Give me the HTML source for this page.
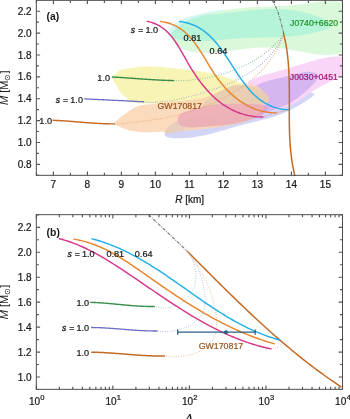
<!DOCTYPE html>
<html><head><meta charset="utf-8"><style>
html,body{margin:0;padding:0;background:#fff;width:350px;height:419px;overflow:hidden}
svg{display:block;will-change:transform}
text{font-family:"Liberation Sans",sans-serif}
</style></head><body>
<svg width="350" height="419" viewBox="0 0 350 419" font-family="Liberation Sans, sans-serif">
<defs><clipPath id="clipA"><rect x="36.3" y="0.3" width="306.2" height="175.0"/></clipPath></defs>
<rect width="350" height="419" fill="#fff"/>
<g clip-path="url(#clipA)">
<path d="M169.20,32.96 L168.98,32.18 L169.00,31.32 L169.24,30.40 L169.68,29.42 L170.30,28.42 L171.07,27.39 L171.98,26.35 L173.01,25.31 L174.14,24.30 L175.35,23.32 L176.62,22.38 L177.92,21.51 L179.24,20.71 L180.57,19.98 L181.91,19.33 L183.24,18.75 L184.57,18.22 L185.91,17.75 L187.24,17.32 L188.56,16.92 L189.87,16.56 L191.17,16.22 L192.46,15.90 L193.74,15.58 L195.00,15.27 L196.25,14.96 L197.49,14.65 L198.72,14.35 L199.95,14.05 L201.17,13.76 L202.40,13.47 L203.64,13.18 L204.88,12.90 L206.14,12.62 L207.41,12.36 L208.70,12.10 L210.01,11.84 L211.34,11.60 L212.71,11.36 L214.10,11.14 L215.53,10.92 L216.99,10.72 L218.47,10.53 L219.97,10.36 L221.48,10.22 L222.98,10.11 L224.47,10.03 L225.94,9.99 L227.39,9.99 L228.79,10.05 L230.15,10.15 L231.45,10.31 L232.70,10.53 L233.87,10.82 L234.95,11.18 L235.95,11.61 L236.85,12.12 L237.64,12.67 L238.31,13.25 L238.83,13.85 L239.21,14.43 L239.42,14.98 L239.47,15.49 L239.35,15.95 L239.08,16.38 L238.67,16.78 L238.12,17.15 L237.44,17.49 L236.64,17.80 L235.72,18.09 L234.70,18.36 L233.57,18.62 L232.35,18.86 L231.04,19.09 L229.65,19.32 L228.20,19.54 L226.67,19.76 L225.10,19.98 L223.47,20.21 L221.80,20.45 L220.10,20.69 L218.37,20.95 L216.62,21.22 L214.86,21.52 L213.09,21.84 L211.32,22.18 L209.57,22.55 L207.83,22.95 L206.12,23.39 L204.44,23.86 L202.80,24.38 L201.20,24.93 L199.66,25.54 L198.18,26.18 L196.75,26.87 L195.36,27.58 L194.02,28.30 L192.71,29.04 L191.44,29.78 L190.20,30.52 L188.98,31.24 L187.78,31.93 L186.59,32.60 L185.41,33.22 L184.24,33.80 L183.07,34.32 L181.90,34.77 L180.72,35.15 L179.53,35.45 L178.32,35.66 L177.08,35.77 L175.83,35.78 L174.58,35.68 L173.37,35.47 L172.23,35.16 L171.21,34.76 L170.34,34.25 L169.66,33.65 L169.20,32.96Z" fill="#d3f7f1" opacity="1.0"/>
<path d="M171.96,39.91 L172.22,37.25 L173.47,34.51 L175.44,31.82 L177.88,29.34 L180.61,27.13 L183.56,25.17 L186.69,23.41 L189.97,21.82 L193.32,20.35 L196.72,18.98 L200.14,17.67 L203.57,16.43 L206.99,15.27 L210.42,14.18 L213.84,13.18 L217.25,12.26 L220.64,11.42 L224.01,10.67 L227.35,10.01 L230.66,9.44 L233.95,8.94 L237.22,8.52 L240.47,8.17 L243.72,7.87 L246.97,7.62 L250.22,7.41 L253.47,7.23 L256.74,7.08 L260.03,6.95 L263.33,6.83 L266.67,6.72 L270.04,6.59 L273.45,6.46 L276.90,6.31 L280.39,6.12 L283.94,5.91 L287.55,5.65 L291.23,5.34 L294.97,4.97 L298.78,4.53 L302.67,4.02 L306.63,3.46 L310.61,2.88 L314.60,2.33 L318.56,1.83 L322.47,1.44 L326.28,1.18 L329.98,1.09 L333.52,1.22 L336.89,1.61 L340.05,2.28 L342.96,3.28 L345.61,4.65 L347.96,6.42 L349.97,8.64 L351.63,11.31 L352.94,14.38 L353.90,17.75 L354.52,21.35 L354.80,25.08 L354.74,28.87 L354.37,32.63 L353.67,36.27 L352.65,39.72 L351.33,42.88 L349.70,45.68 L347.78,48.06 L345.59,50.03 L343.13,51.62 L340.44,52.87 L337.53,53.80 L334.42,54.43 L331.13,54.80 L327.68,54.94 L324.09,54.86 L320.38,54.61 L316.56,54.20 L312.66,53.67 L308.70,53.05 L304.69,52.35 L300.66,51.62 L296.62,50.87 L292.60,50.14 L288.61,49.45 L284.67,48.83 L280.80,48.31 L277.02,47.92 L273.33,47.65 L269.72,47.50 L266.17,47.44 L262.69,47.49 L259.26,47.61 L255.88,47.81 L252.54,48.07 L249.22,48.39 L245.92,48.75 L242.64,49.14 L239.36,49.55 L236.07,49.98 L232.78,50.41 L229.46,50.84 L226.11,51.25 L222.72,51.63 L219.29,51.98 L215.80,52.27 L212.25,52.51 L208.66,52.67 L205.04,52.73 L201.41,52.65 L197.79,52.42 L194.20,52.02 L190.65,51.41 L187.17,50.57 L183.77,49.48 L180.48,48.12 L177.39,46.46 L174.77,44.54 L172.87,42.35 L171.96,39.91Z" fill="#daf8da" opacity="1.0"/>
<path d="M171.05,36.49 L170.85,34.99 L171.52,33.23 L172.91,31.30 L174.89,29.26 L177.30,27.19 L180.00,25.19 L182.85,23.31 L185.72,21.63 L188.59,20.16 L191.45,18.88 L194.30,17.79 L197.13,16.88 L199.94,16.14 L202.73,15.55 L205.50,15.09 L208.26,14.72 L211.02,14.42 L213.77,14.16 L216.53,13.91 L219.30,13.66 L222.07,13.38 L224.86,13.09 L227.65,12.78 L230.46,12.47 L233.27,12.15 L236.09,11.83 L238.92,11.52 L241.75,11.21 L244.59,10.90 L247.44,10.61 L250.29,10.34 L253.14,10.08 L256.01,9.85 L258.87,9.64 L261.74,9.46 L264.61,9.31 L267.49,9.20 L270.36,9.12 L273.24,9.09 L276.12,9.11 L279.01,9.17 L281.89,9.29 L284.77,9.46 L287.65,9.69 L290.53,9.99 L293.41,10.35 L296.29,10.78 L299.17,11.28 L302.04,11.86 L304.91,12.51 L307.78,13.26 L310.64,14.08 L313.50,15.00 L316.36,16.01 L319.20,17.11 L322.04,18.32 L324.79,19.61 L327.27,20.96 L329.29,22.33 L330.66,23.70 L331.19,25.03 L330.78,26.29 L329.52,27.49 L327.56,28.62 L325.07,29.67 L322.19,30.65 L319.06,31.55 L315.86,32.37 L312.67,33.10 L309.52,33.77 L306.41,34.36 L303.32,34.88 L300.27,35.34 L297.25,35.74 L294.26,36.09 L291.29,36.38 L288.35,36.63 L285.43,36.84 L282.54,37.01 L279.66,37.15 L276.81,37.27 L273.97,37.35 L271.15,37.42 L268.35,37.48 L265.56,37.52 L262.78,37.56 L260.01,37.60 L257.25,37.64 L254.50,37.68 L251.76,37.74 L249.02,37.82 L246.28,37.91 L243.54,38.03 L240.81,38.18 L238.07,38.37 L235.33,38.58 L232.58,38.81 L229.82,39.06 L227.05,39.33 L224.25,39.60 L221.44,39.86 L218.60,40.12 L215.72,40.36 L212.82,40.59 L209.87,40.79 L206.89,40.95 L203.87,41.08 L200.79,41.16 L197.67,41.19 L194.51,41.16 L191.36,41.06 L188.23,40.89 L185.16,40.64 L182.17,40.29 L179.30,39.84 L176.57,39.29 L174.12,38.59 L172.20,37.67 L171.05,36.49Z" fill="#b5f4d9" opacity="1.0"/>
<path d="M164.55,134.77 L164.93,133.05 L166.21,131.04 L168.14,128.92 L170.46,126.85 L172.94,125.02 L175.46,123.46 L178.02,122.16 L180.62,121.08 L183.24,120.19 L185.89,119.45 L188.56,118.84 L191.25,118.33 L193.96,117.88 L196.67,117.47 L199.40,117.05 L202.13,116.61 L204.86,116.13 L207.60,115.61 L210.33,115.07 L213.05,114.51 L215.77,113.92 L218.49,113.32 L221.19,112.70 L223.88,112.07 L226.56,111.44 L229.22,110.81 L231.86,110.17 L234.48,109.55 L237.08,108.93 L239.65,108.32 L242.20,107.73 L244.72,107.17 L247.21,106.62 L249.67,106.11 L252.09,105.62 L254.49,105.16 L256.88,104.72 L259.27,104.29 L261.68,103.86 L264.11,103.42 L266.59,102.98 L269.11,102.51 L271.71,102.01 L274.38,101.47 L277.14,100.89 L280.00,100.26 L282.99,99.57 L286.10,98.81 L289.35,97.97 L292.75,97.06 L296.22,96.11 L299.66,95.18 L302.96,94.34 L306.02,93.63 L308.74,93.12 L311.01,92.86 L312.74,92.92 L313.81,93.34 L314.15,94.13 L313.71,95.19 L312.50,96.45 L310.72,97.85 L308.53,99.35 L306.11,100.90 L303.64,102.44 L301.19,103.94 L298.76,105.41 L296.33,106.83 L293.90,108.19 L291.46,109.49 L289.00,110.71 L286.50,111.86 L283.99,112.93 L281.45,113.94 L278.89,114.89 L276.31,115.78 L273.72,116.63 L271.11,117.43 L268.50,118.19 L265.87,118.91 L263.24,119.62 L260.60,120.29 L257.96,120.96 L255.33,121.61 L252.69,122.25 L250.06,122.90 L247.44,123.55 L244.83,124.21 L242.22,124.88 L239.64,125.58 L237.06,126.30 L234.50,127.04 L231.94,127.78 L229.39,128.54 L226.85,129.30 L224.30,130.05 L221.74,130.80 L219.18,131.54 L216.61,132.26 L214.03,132.97 L211.43,133.64 L208.82,134.29 L206.18,134.91 L203.52,135.48 L200.83,136.02 L198.12,136.50 L195.37,136.94 L192.58,137.31 L189.76,137.63 L186.90,137.88 L183.99,138.06 L181.03,138.16 L178.03,138.19 L174.97,138.13 L171.95,137.95 L169.16,137.60 L166.85,137.00 L165.24,136.08 L164.55,134.77Z" fill="#d3d5f7" opacity="1.0"/>
<path d="M246.88,85.64 L247.68,84.05 L248.77,82.61 L250.11,81.30 L251.67,80.13 L253.43,79.07 L255.35,78.11 L257.39,77.24 L259.54,76.45 L261.76,75.73 L264.02,75.06 L266.29,74.44 L268.53,73.84 L270.72,73.27 L272.84,72.70 L274.89,72.14 L276.89,71.59 L278.83,71.03 L280.74,70.48 L282.62,69.93 L284.48,69.38 L286.33,68.83 L288.18,68.26 L290.04,67.70 L291.92,67.12 L293.83,66.53 L295.77,65.93 L297.77,65.32 L299.82,64.69 L301.94,64.04 L304.13,63.38 L306.40,62.70 L308.75,62.01 L311.14,61.32 L313.57,60.64 L316.03,59.97 L318.51,59.34 L320.98,58.75 L323.44,58.20 L325.87,57.71 L328.26,57.29 L330.60,56.94 L332.86,56.67 L335.05,56.50 L337.14,56.44 L339.12,56.48 L340.97,56.65 L342.69,56.95 L344.26,57.40 L345.67,57.99 L346.90,58.74 L347.94,59.66 L348.78,60.76 L349.39,62.04 L349.78,63.47 L349.90,65.00 L349.75,66.57 L349.31,68.12 L348.56,69.61 L347.53,71.04 L346.24,72.40 L344.74,73.71 L343.04,74.96 L341.20,76.16 L339.23,77.31 L337.17,78.43 L335.06,79.51 L332.91,80.55 L330.78,81.57 L328.68,82.57 L326.62,83.55 L324.61,84.52 L322.64,85.50 L320.72,86.49 L318.85,87.50 L317.04,88.54 L315.27,89.61 L313.55,90.71 L311.86,91.84 L310.20,92.98 L308.55,94.12 L306.92,95.28 L305.29,96.43 L303.66,97.57 L302.01,98.71 L300.35,99.82 L298.65,100.91 L296.92,101.97 L295.14,102.99 L293.31,103.97 L291.41,104.91 L289.45,105.79 L287.43,106.61 L285.34,107.36 L283.21,108.04 L281.05,108.63 L278.86,109.14 L276.66,109.55 L274.45,109.85 L272.25,110.04 L270.06,110.12 L267.90,110.07 L265.78,109.88 L263.71,109.55 L261.69,109.08 L259.74,108.45 L257.88,107.65 L256.10,106.68 L254.42,105.54 L252.85,104.21 L251.40,102.69 L250.09,101.00 L248.93,99.16 L247.95,97.23 L247.17,95.24 L246.60,93.22 L246.27,91.21 L246.19,89.25 L246.39,87.38 L246.88,85.64Z" fill="#f9d5f7" opacity="1.0"/>
<path d="M245.92,98.72 L246.42,97.20 L247.00,95.77 L247.67,94.41 L248.41,93.14 L249.23,91.95 L250.13,90.82 L251.09,89.76 L252.12,88.77 L253.21,87.85 L254.37,86.98 L255.58,86.16 L256.84,85.40 L258.15,84.69 L259.51,84.02 L260.91,83.39 L262.35,82.81 L263.83,82.25 L265.34,81.73 L266.88,81.24 L268.45,80.78 L270.04,80.33 L271.65,79.91 L273.28,79.50 L274.93,79.10 L276.58,78.71 L278.24,78.33 L279.91,77.95 L281.57,77.57 L283.23,77.18 L284.89,76.78 L286.54,76.38 L288.17,75.96 L289.79,75.52 L291.40,75.08 L292.99,74.64 L294.56,74.20 L296.13,73.78 L297.67,73.39 L299.20,73.02 L300.72,72.69 L302.22,72.40 L303.71,72.16 L305.18,71.99 L306.63,71.87 L308.07,71.83 L309.50,71.87 L310.90,72.00 L312.30,72.22 L313.67,72.54 L315.02,72.97 L316.27,73.52 L317.29,74.18 L317.99,74.97 L318.30,75.87 L318.27,76.88 L317.94,77.98 L317.35,79.14 L316.54,80.37 L315.56,81.62 L314.44,82.91 L313.23,84.19 L311.98,85.47 L310.72,86.72 L309.47,87.93 L308.23,89.12 L306.99,90.28 L305.75,91.40 L304.52,92.49 L303.28,93.55 L302.05,94.57 L300.83,95.57 L299.60,96.53 L298.37,97.46 L297.14,98.36 L295.91,99.23 L294.67,100.07 L293.43,100.87 L292.19,101.64 L290.94,102.38 L289.68,103.08 L288.42,103.76 L287.14,104.41 L285.86,105.03 L284.56,105.63 L283.24,106.21 L281.90,106.77 L280.55,107.32 L279.16,107.86 L277.75,108.40 L276.32,108.93 L274.85,109.46 L273.34,110.00 L271.80,110.54 L270.22,111.09 L268.60,111.65 L266.94,112.23 L265.23,112.82 L263.47,113.44 L261.68,114.06 L259.88,114.66 L258.08,115.20 L256.33,115.65 L254.63,115.99 L253.02,116.18 L251.52,116.20 L250.15,116.01 L248.94,115.58 L247.90,114.90 L247.02,113.99 L246.31,112.89 L245.75,111.61 L245.33,110.19 L245.06,108.66 L244.91,107.05 L244.89,105.37 L244.99,103.68 L245.20,101.98 L245.51,100.32 L245.92,98.72Z" fill="#d5b6f1" opacity="1.0"/>
<path d="M112.30,77.00 L112.34,76.96 L112.43,76.87 L112.55,76.75 L112.72,76.58 L112.93,76.37 L113.19,76.11 L113.48,75.82 L113.82,75.48 L114.20,75.12 L114.62,74.72 L115.08,74.30 L115.58,73.85 L116.12,73.37 L116.70,72.87 L117.32,72.33 L117.98,71.77 L118.70,71.25 L119.48,70.77 L120.32,70.34 L121.21,69.96 L122.16,69.61 L123.17,69.31 L124.24,69.06 L125.36,68.84 L126.62,68.62 L128.00,68.40 L129.51,68.16 L131.14,67.92 L132.91,67.66 L134.80,67.40 L136.82,67.14 L138.98,66.86 L141.22,66.65 L143.57,66.51 L146.02,66.43 L148.56,66.42 L151.20,66.47 L153.94,66.59 L156.78,66.78 L159.72,67.03 L162.76,67.29 L165.90,67.58 L169.14,67.88 L172.48,68.20 L175.93,68.53 L179.48,68.89 L183.12,69.26 L186.88,69.64 L190.54,70.07 L194.11,70.53 L197.59,71.02 L200.98,71.55 L204.29,72.12 L207.50,72.72 L210.63,73.36 L213.67,74.04 L216.55,74.72 L219.28,75.40 L221.84,76.09 L224.26,76.78 L226.51,77.48 L228.61,78.19 L230.56,78.89 L232.34,79.61 L234.16,80.32 L236.02,81.04 L237.90,81.76 L239.82,82.49 L241.77,83.22 L243.76,83.95 L245.77,84.68 L247.83,85.42 L249.73,86.14 L251.48,86.85 L253.09,87.55 L254.56,88.23 L255.87,88.90 L257.04,89.55 L258.06,90.19 L258.94,90.81 L259.36,91.47 L259.33,92.16 L258.84,92.88 L257.91,93.62 L256.52,94.41 L254.67,95.22 L252.38,96.06 L249.62,96.94 L246.59,97.75 L243.28,98.50 L239.69,99.19 L235.81,99.81 L231.66,100.38 L227.22,100.88 L222.50,101.31 L217.50,101.69 L212.44,102.03 L207.31,102.34 L202.12,102.62 L196.88,102.86 L191.56,103.07 L186.19,103.25 L180.75,103.39 L175.25,103.51 L170.06,103.59 L165.19,103.65 L160.62,103.68 L156.38,103.68 L152.44,103.65 L148.81,103.59 L145.50,103.51 L142.50,103.39 L139.78,103.21 L137.33,102.96 L135.16,102.63 L133.27,102.24 L131.65,101.78 L130.31,101.24 L129.24,100.64 L128.46,99.96 L127.67,99.27 L126.88,98.57 L126.09,97.85 L125.31,97.12 L124.52,96.38 L123.73,95.62 L122.94,94.84 L122.16,94.06 L121.43,93.27 L120.75,92.49 L120.13,91.70 L119.57,90.92 L119.06,90.14 L118.61,89.36 L118.22,88.59 L117.88,87.81 L117.53,87.08 L117.17,86.38 L116.79,85.73 L116.41,85.12 L116.01,84.55 L115.59,84.02 L115.17,83.53 L114.73,83.07 L114.33,82.61 L113.98,82.13 L113.66,81.64 L113.39,81.13 L113.15,80.61 L112.96,80.08 L112.81,79.53 L112.69,78.97 L112.60,78.48 L112.51,78.05 L112.44,77.70 L112.38,77.42 L112.34,77.21 L112.31,77.07Z" fill="#f8f4b5" opacity="1.0"/>
<path d="M113.20,123.60 L113.31,123.50 L113.53,123.30 L113.87,123.01 L114.31,122.62 L114.86,122.12 L115.53,121.53 L116.31,120.84 L117.19,120.06 L118.08,119.28 L118.97,118.53 L119.87,117.79 L120.76,117.06 L121.65,116.35 L122.55,115.66 L123.45,114.98 L124.35,114.32 L125.25,113.67 L126.15,113.03 L127.04,112.40 L127.93,111.78 L128.83,111.17 L129.72,110.57 L130.61,109.99 L131.49,109.41 L132.38,108.87 L133.27,108.36 L134.17,107.88 L135.06,107.43 L135.95,107.01 L136.85,106.62 L137.75,106.26 L138.65,105.94 L139.66,105.64 L140.78,105.37 L142.01,105.12 L143.34,104.90 L144.79,104.71 L146.35,104.55 L148.01,104.41 L149.79,104.29 L151.64,104.15 L153.56,103.98 L155.56,103.77 L157.64,103.53 L159.79,103.26 L162.01,102.96 L164.31,102.63 L166.69,102.27 L169.19,101.92 L171.81,101.59 L174.56,101.27 L177.44,100.96 L180.44,100.67 L183.56,100.39 L186.81,100.12 L190.19,99.88 L193.42,99.53 L196.52,99.09 L199.47,98.56 L202.28,97.94 L204.95,97.22 L207.48,96.41 L209.88,95.50 L212.12,94.50 L214.41,93.53 L216.72,92.59 L219.06,91.69 L221.44,90.81 L223.84,89.97 L226.28,89.16 L228.75,88.38 L231.25,87.62 L233.67,86.95 L236.02,86.36 L238.28,85.84 L240.47,85.41 L242.58,85.05 L244.61,84.77 L246.56,84.56 L248.44,84.44 L250.27,84.49 L252.06,84.71 L253.81,85.10 L255.52,85.67 L257.18,86.41 L258.80,87.33 L260.38,88.42 L261.92,89.68 L263.21,91.04 L264.26,92.48 L265.06,94.02 L265.62,95.65 L265.93,97.38 L265.99,99.19 L265.81,101.10 L265.39,103.10 L264.77,105.05 L263.95,106.94 L262.93,108.78 L261.72,110.57 L260.31,112.30 L258.70,113.98 L256.90,115.61 L254.90,117.19 L252.40,118.68 L249.40,120.09 L245.91,121.42 L241.92,122.66 L237.42,123.82 L232.43,124.90 L226.94,125.89 L220.96,126.81 L215.15,127.63 L209.51,128.37 L204.05,129.02 L198.77,129.58 L193.67,130.06 L188.74,130.44 L183.99,130.74 L179.41,130.96 L175.02,131.15 L170.80,131.34 L166.76,131.51 L162.89,131.67 L159.21,131.81 L155.70,131.94 L152.38,132.05 L149.23,132.15 L146.25,132.18 L143.44,132.14 L140.80,132.04 L138.33,131.86 L136.03,131.62 L133.90,131.31 L131.94,130.92 L130.16,130.47 L128.42,130.00 L126.75,129.50 L125.13,128.97 L123.57,128.41 L122.06,127.83 L120.61,127.22 L119.22,126.58 L117.88,125.92 L116.71,125.34 L115.71,124.84 L114.87,124.43 L114.20,124.10 L113.70,123.85 L113.37,123.68Z" fill="#fad3b1" opacity="0.85"/>
<path d="M164.54,131.98 L164.86,131.32 L165.24,130.66 L165.67,130.01 L166.16,129.36 L166.69,128.72 L167.28,128.08 L167.93,127.44 L168.62,126.81 L169.38,126.19 L170.12,125.58 L170.88,124.98 L171.62,124.41 L172.38,123.84 L173.12,123.30 L173.88,122.77 L174.62,122.25 L175.38,121.75 L176.08,121.39 L176.73,121.17 L177.34,121.09 L177.91,121.16 L178.42,121.36 L178.89,121.70 L179.31,122.19 L179.69,122.81 L180.11,123.42 L180.58,124.02 L181.09,124.59 L181.66,125.16 L182.27,125.70 L182.92,126.23 L183.62,126.75 L184.38,127.25 L184.89,127.73 L185.17,128.20 L185.22,128.66 L185.03,129.09 L184.61,129.52 L183.95,129.92 L183.06,130.31 L181.94,130.69 L180.72,131.05 L179.43,131.40 L178.04,131.75 L176.56,132.08 L175.00,132.40 L173.35,132.71 L171.61,133.01 L169.79,133.29 L168.23,133.46 L166.94,133.51 L165.93,133.44 L165.18,133.26 L164.69,132.95 L164.48,132.53Z" fill="#e6cdbd" opacity="0.9"/>
<path d="M205.25,101.62 L206.75,100.38 L208.28,99.16 L209.84,97.97 L211.44,96.81 L213.06,95.69 L214.72,94.59 L216.41,93.53 L218.12,92.50 L219.88,91.50 L221.58,90.56 L223.23,89.68 L224.84,88.87 L226.41,88.11 L227.92,87.41 L229.39,86.78 L230.81,86.21 L232.19,85.69 L233.66,85.30 L235.23,85.02 L236.90,84.86 L238.67,84.82 L240.54,84.89 L242.50,85.08 L244.57,85.39 L246.73,85.81 L248.79,86.26 L250.75,86.72 L252.60,87.21 L254.35,87.72 L256.00,88.24 L257.54,88.79 L258.98,89.36 L260.32,89.94 L261.56,90.55 L262.71,91.16 L263.77,91.79 L264.73,92.43 L265.60,93.09 L266.38,93.76 L267.06,94.45 L267.64,95.15 L268.13,95.86 L268.52,96.57 L268.81,97.29 L268.99,98.01 L269.08,98.74 L269.07,99.48 L268.96,100.22 L268.74,100.97 L268.34,101.65 L267.76,102.24 L266.98,102.76 L266.02,103.19 L264.87,103.55 L263.53,103.83 L262.01,104.04 L260.29,104.16 L258.42,104.26 L256.37,104.34 L254.16,104.39 L251.79,104.41 L249.25,104.41 L246.54,104.39 L243.67,104.34 L240.63,104.26 L237.66,104.23 L234.76,104.23 L231.92,104.28 L229.15,104.37 L226.45,104.50 L223.82,104.67 L221.25,104.88 L218.75,105.12 L216.41,105.34 L214.22,105.53 L212.19,105.69 L210.31,105.81 L208.59,105.91 L207.03,105.97 L205.62,106.00 L204.38,106.00 L203.47,105.84 L202.91,105.53 L202.69,105.06 L202.81,104.44 L203.28,103.66 L204.09,102.72Z" fill="#e8cdb2" opacity="0.95"/>
<path d="M178.26,117.04 L178.64,116.36 L179.09,115.72 L179.61,115.12 L180.18,114.55 L180.82,114.02 L181.52,113.53 L182.28,113.07 L183.11,112.64 L183.99,112.26 L185.04,111.84 L186.24,111.38 L187.60,110.90 L189.12,110.38 L190.80,109.83 L192.63,109.24 L194.62,108.62 L196.78,107.98 L199.06,107.37 L201.47,106.82 L204.02,106.32 L206.70,105.86 L209.52,105.45 L212.46,105.09 L215.54,104.78 L218.76,104.52 L221.94,104.30 L225.10,104.11 L228.23,103.97 L231.34,103.86 L234.42,103.79 L237.47,103.76 L240.50,103.78 L243.50,103.83 L246.31,103.88 L248.94,103.95 L251.38,104.03 L253.62,104.12 L255.69,104.22 L257.56,104.32 L259.25,104.44 L260.75,104.56 L262.09,104.73 L263.28,104.95 L264.31,105.22 L265.19,105.53 L265.91,105.89 L266.47,106.30 L266.88,106.75 L267.12,107.25 L267.25,107.80 L267.25,108.39 L267.12,109.03 L266.88,109.72 L266.50,110.45 L266.00,111.23 L265.38,112.06 L264.62,112.94 L263.78,113.77 L262.84,114.55 L261.81,115.28 L260.69,115.97 L259.47,116.61 L258.16,117.20 L256.75,117.75 L255.25,118.25 L253.62,118.77 L251.88,119.30 L250.00,119.84 L248.00,120.41 L245.88,120.98 L243.62,121.58 L241.25,122.19 L238.75,122.81 L236.25,123.38 L233.75,123.88 L231.25,124.31 L228.75,124.69 L226.25,125.00 L223.75,125.25 L221.25,125.44 L218.75,125.56 L216.25,125.70 L213.75,125.86 L211.25,126.03 L208.75,126.22 L206.25,126.42 L203.75,126.64 L201.25,126.88 L198.75,127.12 L196.41,127.31 L194.22,127.44 L192.19,127.50 L190.31,127.50 L188.59,127.44 L187.03,127.31 L185.62,127.12 L184.38,126.88 L183.23,126.55 L182.20,126.16 L181.27,125.69 L180.45,125.16 L179.74,124.55 L179.14,123.87 L178.64,123.11 L178.26,122.29 L177.97,121.48 L177.77,120.69 L177.68,119.93 L177.68,119.18 L177.77,118.44 L177.97,117.73Z" fill="#e79ab4" opacity="0.62"/>
</g>
<path d="M173.85,80.62 L175.37,80.63 L176.89,80.63 L178.41,80.61 L179.93,80.58 L181.46,80.54 L182.99,80.48 L184.51,80.41 L186.04,80.33 L187.57,80.23 L189.11,80.12 L190.64,80.00 L192.17,79.86 L193.70,79.70 L195.23,79.54 L196.76,79.36 L198.29,79.16 L199.82,78.95 L201.35,78.73 L202.87,78.49 L204.40,78.24 L205.92,77.97 L207.44,77.69 L208.96,77.40 L210.47,77.09 L211.98,76.76 L213.49,76.42 L215.00,76.07 L216.50,75.70 L218.00,75.32 L219.49,74.92 L220.98,74.51 L222.46,74.08 L223.94,73.64 L225.42,73.18 L226.89,72.70 L228.35,72.22 L229.81,71.71 L231.26,71.19 L232.71,70.66 L234.15,70.11 L235.58,69.54 L237.00,68.96 L238.42,68.37 L239.83,67.76 L241.24,67.13 L242.63,66.49 L244.02,65.83 L245.40,65.15 L246.77,64.46 L248.13,63.75 L249.49,63.03 L250.83,62.29 L252.16,61.54 L253.49,60.77 L254.80,59.98 L256.11,59.17 L257.40,58.36 L258.68,57.52 L259.96,56.67 L261.22,55.80 L262.47,54.91 L263.70,54.01 L264.93,53.09 L266.14,52.15 L267.34,51.20 L268.53,50.23 L269.71,49.25 L270.87,48.24 L272.02,47.22 L273.16,46.19 L274.28,45.13 L275.39,44.06 L276.48,42.97 L277.56,41.86 L278.63,40.74 L279.68,39.60 L280.71,38.44 L281.73,37.27 L282.74,36.07" stroke="#8cbc9c" stroke-width="1.1" fill="none" stroke-linejoin="round" stroke-dasharray="0.01 2.4" stroke-linecap="round"/>
<path d="M143.42,102.01 L145.50,102.12 L147.57,102.20 L149.64,102.23 L151.69,102.23 L153.75,102.19 L155.79,102.11 L157.83,102.00 L159.87,101.85 L161.90,101.67 L163.92,101.46 L165.94,101.23 L167.96,100.96 L169.97,100.66 L171.98,100.34 L173.98,99.99 L175.98,99.62 L177.98,99.23 L179.97,98.82 L181.96,98.39 L183.94,97.93 L185.92,97.47 L187.90,96.98 L189.88,96.48 L191.85,95.97 L193.82,95.44 L195.79,94.90 L197.76,94.36 L199.72,93.80 L201.68,93.23 L203.64,92.65 L205.60,92.06 L207.55,91.45 L209.50,90.83 L211.44,90.20 L213.38,89.54 L215.31,88.88 L217.24,88.19 L219.16,87.49 L221.07,86.77 L222.98,86.03 L224.88,85.27 L226.77,84.49 L228.66,83.68 L230.53,82.86 L232.40,82.01 L234.26,81.13 L236.11,80.24 L237.95,79.31 L239.78,78.36 L241.59,77.39 L243.39,76.39 L245.18,75.36 L246.94,74.31 L248.69,73.23 L250.42,72.12 L252.13,70.98 L253.82,69.81 L255.48,68.61 L257.12,67.39 L258.73,66.13 L260.32,64.85 L261.87,63.53 L263.40,62.18 L264.90,60.80 L266.36,59.39 L267.79,57.94 L269.19,56.47 L270.55,54.96 L271.87,53.41 L273.15,51.83 L274.39,50.22 L275.60,48.57 L276.76,46.89 L277.87,45.17 L278.94,43.42 L279.97,41.63 L280.94,39.80 L281.87,37.94 L282.75,36.03" stroke="#a4a4dc" stroke-width="1.1" fill="none" stroke-linejoin="round" stroke-dasharray="0.01 2.4" stroke-linecap="round"/>
<path d="M115.10,124.25 L117.63,124.02 L120.15,123.78 L122.68,123.54 L125.21,123.29 L127.73,123.03 L130.26,122.77 L132.78,122.50 L135.31,122.21 L137.83,121.92 L140.35,121.61 L142.87,121.29 L145.38,120.96 L147.89,120.61 L150.40,120.25 L152.91,119.87 L155.41,119.48 L157.91,119.07 L160.41,118.64 L162.90,118.19 L165.38,117.72 L167.86,117.23 L170.34,116.72 L172.81,116.19 L175.27,115.63 L177.73,115.05 L180.18,114.45 L182.62,113.82 L185.06,113.16 L187.49,112.48 L189.91,111.76 L192.32,111.02 L194.73,110.25 L197.12,109.45 L199.51,108.62 L201.89,107.76 L204.26,106.86 L206.61,105.93 L208.96,104.97 L211.30,103.98 L213.62,102.95 L215.93,101.89 L218.22,100.80 L220.51,99.68 L222.77,98.53 L225.02,97.34 L227.26,96.12 L229.48,94.86 L231.68,93.57 L233.86,92.25 L236.02,90.90 L238.17,89.52 L240.29,88.10 L242.40,86.64 L244.48,85.16 L246.53,83.64 L248.55,82.08 L250.55,80.49 L252.51,78.87 L254.44,77.21 L256.34,75.51 L258.19,73.78 L260.01,72.01 L261.78,70.21 L263.51,68.36 L265.19,66.48 L266.83,64.57 L268.41,62.61 L269.94,60.62 L271.42,58.58 L272.84,56.51 L274.20,54.40 L275.50,52.25 L276.74,50.06 L277.92,47.83 L279.02,45.55 L280.06,43.24 L281.03,40.88 L281.93,38.49 L282.75,36.05" stroke="#e6a878" stroke-width="1.1" fill="none" stroke-linejoin="round" stroke-dasharray="0.01 2.4" stroke-linecap="round"/>
<path d="M262.30,117.10 L262.63,116.99 L262.97,116.89 L263.30,116.78 L263.63,116.67 L263.97,116.57 L264.30,116.46 L264.63,116.36 L264.97,116.25 L265.30,116.15 L265.63,116.04 L265.97,115.94 L266.30,115.84 L266.64,115.73 L266.97,115.63 L267.30,115.53 L267.64,115.43 L267.97,115.33 L268.31,115.23 L268.64,115.12 L268.98,115.02 L269.31,114.92 L269.65,114.82 L269.98,114.72 L270.32,114.62 L270.65,114.53 L270.99,114.43 L271.32,114.33 L271.66,114.23 L272.00,114.13 L272.33,114.04 L272.67,113.94 L273.00,113.84 L273.34,113.75 L273.68,113.65 L274.01,113.56 L274.35,113.46 L274.68,113.37 L275.02,113.27 L275.36,113.18 L275.69,113.08 L276.03,112.99 L276.37,112.90 L276.70,112.81 L277.04,112.71 L277.38,112.62 L277.72,112.53 L278.05,112.44 L278.39,112.35 L278.73,112.26 L279.07,112.17 L279.40,112.08 L279.74,111.99 L280.08,111.90 L280.42,111.81 L280.76,111.72 L281.09,111.63 L281.43,111.55 L281.77,111.46 L282.11,111.37 L282.45,111.28 L282.79,111.20 L283.13,111.11 L283.46,111.03 L283.80,110.94 L284.14,110.85 L284.48,110.77 L284.82,110.69 L285.16,110.60 L285.50,110.52 L285.84,110.43 L286.18,110.35 L286.52,110.27 L286.86,110.19 L287.20,110.10 L287.54,110.02 L287.88,109.94 L288.22,109.86 L288.56,109.78 L288.90,109.70" stroke="#e890c0" stroke-width="1.1" fill="none" stroke-linejoin="round" stroke-dasharray="0.01 2.4" stroke-linecap="round"/>
<path d="M276.00,112.60 L276.16,112.56 L276.33,112.52 L276.49,112.49 L276.65,112.45 L276.82,112.41 L276.98,112.37 L277.14,112.33 L277.30,112.30 L277.47,112.26 L277.63,112.22 L277.79,112.18 L277.96,112.15 L278.12,112.11 L278.28,112.07 L278.45,112.03 L278.61,112.00 L278.77,111.96 L278.94,111.92 L279.10,111.88 L279.26,111.85 L279.42,111.81 L279.59,111.77 L279.75,111.73 L279.91,111.70 L280.08,111.66 L280.24,111.62 L280.40,111.59 L280.57,111.55 L280.73,111.51 L280.89,111.47 L281.06,111.44 L281.22,111.40 L281.38,111.36 L281.55,111.33 L281.71,111.29 L281.87,111.25 L282.04,111.22 L282.20,111.18 L282.36,111.14 L282.53,111.11 L282.69,111.07 L282.85,111.03 L283.02,111.00 L283.18,110.96 L283.34,110.92 L283.51,110.89 L283.67,110.85 L283.83,110.81 L284.00,110.78 L284.16,110.74 L284.32,110.70 L284.49,110.67 L284.65,110.63 L284.81,110.60 L284.98,110.56 L285.14,110.52 L285.30,110.49 L285.47,110.45 L285.63,110.42 L285.79,110.38 L285.96,110.34 L286.12,110.31 L286.28,110.27 L286.45,110.24 L286.61,110.20 L286.77,110.16 L286.94,110.13 L287.10,110.09 L287.26,110.06 L287.43,110.02 L287.59,109.98 L287.76,109.95 L287.92,109.91 L288.08,109.88 L288.25,109.84 L288.41,109.81 L288.57,109.77 L288.74,109.74 L288.90,109.70" stroke="#e6a878" stroke-width="1.1" fill="none" stroke-linejoin="round" stroke-dasharray="0.01 2.4" stroke-linecap="round"/>
<path d="M147.26,21.38 L149.36,21.83 L151.38,22.38 L153.32,23.02 L155.18,23.75 L156.97,24.57 L158.69,25.46 L160.34,26.43 L161.93,27.48 L163.46,28.59 L164.93,29.77 L166.35,31.02 L167.71,32.32 L169.03,33.68 L170.30,35.10 L171.54,36.56 L172.73,38.07 L173.90,39.62 L175.03,41.20 L176.13,42.83 L177.21,44.48 L178.27,46.17 L179.31,47.87 L180.33,49.60 L181.34,51.35 L182.35,53.11 L183.35,54.88 L184.35,56.66 L185.35,58.44 L186.36,60.22 L187.37,62.00 L188.40,63.77 L189.44,65.53 L190.49,67.28 L191.56,69.02 L192.64,70.74 L193.74,72.46 L194.86,74.15 L195.99,75.84 L197.14,77.50 L198.30,79.15 L199.49,80.77 L200.69,82.38 L201.91,83.96 L203.15,85.52 L204.41,87.06 L205.70,88.57 L207.00,90.06 L208.33,91.52 L209.67,92.95 L211.04,94.35 L212.44,95.72 L213.85,97.05 L215.29,98.36 L216.76,99.63 L218.25,100.87 L219.77,102.07 L221.31,103.23 L222.88,104.35 L224.48,105.43 L226.10,106.48 L227.76,107.48 L229.44,108.44 L231.15,109.35 L232.89,110.22 L234.67,111.04 L236.47,111.81 L238.30,112.54 L240.17,113.22 L242.07,113.84 L244.00,114.41 L245.96,114.93 L247.96,115.40 L249.99,115.81 L252.06,116.16 L254.17,116.46 L256.30,116.69 L258.48,116.87 L260.69,116.99 L262.94,117.04" stroke="#d8358a" stroke-width="1.45" fill="none" stroke-linejoin="round" stroke-linecap="round"/>
<path d="M160.79,21.57 L162.94,21.87 L165.02,22.25 L167.04,22.71 L168.98,23.25 L170.86,23.87 L172.68,24.56 L174.45,25.33 L176.15,26.16 L177.80,27.06 L179.39,28.03 L180.94,29.05 L182.43,30.14 L183.89,31.28 L185.29,32.47 L186.66,33.72 L187.99,35.01 L189.28,36.35 L190.54,37.73 L191.77,39.16 L192.96,40.62 L194.14,42.11 L195.28,43.64 L196.40,45.20 L197.51,46.79 L198.59,48.40 L199.67,50.04 L200.72,51.69 L201.77,53.36 L202.81,55.05 L203.84,56.74 L204.87,58.45 L205.90,60.17 L206.93,61.88 L207.96,63.60 L209.00,65.32 L210.05,67.04 L211.11,68.75 L212.18,70.45 L213.26,72.14 L214.37,73.82 L215.49,75.48 L216.64,77.12 L217.80,78.74 L219.00,80.33 L220.21,81.91 L221.45,83.46 L222.71,84.98 L224.00,86.48 L225.30,87.95 L226.64,89.39 L227.99,90.80 L229.38,92.18 L230.78,93.52 L232.21,94.83 L233.67,96.11 L235.14,97.35 L236.65,98.55 L238.18,99.71 L239.73,100.83 L241.31,101.91 L242.91,102.95 L244.54,103.94 L246.19,104.89 L247.87,105.79 L249.58,106.65 L251.31,107.45 L253.07,108.21 L254.85,108.91 L256.66,109.57 L258.49,110.16 L260.36,110.71 L262.24,111.19 L264.16,111.62 L266.10,112.00 L268.07,112.31 L270.06,112.56 L272.08,112.75 L274.13,112.87 L276.21,112.93" stroke="#e8842a" stroke-width="1.45" fill="none" stroke-linejoin="round" stroke-linecap="round"/>
<path d="M179.72,21.60 L181.72,21.84 L183.66,22.15 L185.55,22.53 L187.40,22.98 L189.20,23.49 L190.96,24.07 L192.68,24.71 L194.35,25.41 L195.98,26.16 L197.57,26.98 L199.13,27.85 L200.65,28.77 L202.13,29.74 L203.58,30.76 L205.00,31.82 L206.38,32.93 L207.74,34.09 L209.07,35.28 L210.37,36.52 L211.64,37.79 L212.89,39.09 L214.12,40.43 L215.33,41.80 L216.51,43.20 L217.68,44.63 L218.83,46.08 L219.96,47.56 L221.07,49.06 L222.18,50.58 L223.27,52.12 L224.35,53.67 L225.42,55.24 L226.48,56.81 L227.53,58.40 L228.58,60.00 L229.62,61.61 L230.66,63.22 L231.70,64.83 L232.74,66.44 L233.78,68.05 L234.82,69.66 L235.87,71.27 L236.92,72.86 L237.97,74.45 L239.04,76.03 L240.11,77.60 L241.19,79.15 L242.29,80.68 L243.40,82.20 L244.52,83.70 L245.65,85.17 L246.81,86.62 L247.98,88.04 L249.17,89.44 L250.39,90.81 L251.62,92.14 L252.88,93.44 L254.16,94.71 L255.47,95.94 L256.81,97.13 L258.18,98.28 L259.57,99.38 L261.00,100.44 L262.46,101.46 L263.95,102.42 L265.49,103.33 L267.05,104.20 L268.66,105.00 L270.30,105.75 L271.99,106.45 L273.72,107.08 L275.49,107.65 L277.31,108.15 L279.17,108.59 L281.08,108.96 L283.04,109.27 L285.05,109.50 L287.11,109.65 L289.22,109.73" stroke="#22aee6" stroke-width="1.45" fill="none" stroke-linejoin="round" stroke-linecap="round"/>
<path d="M112.40,77.00 L113.17,77.04 L113.95,77.09 L114.72,77.13 L115.50,77.18 L116.27,77.22 L117.05,77.27 L117.82,77.32 L118.60,77.37 L119.37,77.42 L120.15,77.47 L120.92,77.52 L121.70,77.57 L122.47,77.62 L123.24,77.67 L124.02,77.72 L124.79,77.78 L125.57,77.83 L126.34,77.88 L127.12,77.94 L127.89,77.99 L128.66,78.05 L129.44,78.10 L130.21,78.16 L130.99,78.21 L131.76,78.27 L132.53,78.32 L133.31,78.38 L134.08,78.43 L134.86,78.49 L135.63,78.54 L136.40,78.60 L137.18,78.65 L137.95,78.71 L138.73,78.76 L139.50,78.82 L140.28,78.87 L141.05,78.93 L141.82,78.98 L142.60,79.04 L143.37,79.09 L144.15,79.14 L144.92,79.19 L145.69,79.25 L146.47,79.30 L147.24,79.35 L148.02,79.40 L148.79,79.45 L149.57,79.50 L150.34,79.55 L151.12,79.60 L151.89,79.65 L152.66,79.69 L153.44,79.74 L154.21,79.79 L154.99,79.83 L155.76,79.88 L156.54,79.92 L157.31,79.96 L158.09,80.00 L158.86,80.04 L159.64,80.08 L160.41,80.12 L161.19,80.16 L161.96,80.20 L162.74,80.23 L163.51,80.27 L164.29,80.30 L165.06,80.33 L165.84,80.36 L166.62,80.39 L167.39,80.42 L168.17,80.45 L168.94,80.47 L169.72,80.50 L170.50,80.52 L171.27,80.54 L172.05,80.56 L172.82,80.58 L173.60,80.60" stroke="#3a8c4c" stroke-width="1.4" fill="none" stroke-linejoin="round" stroke-linecap="round"/>
<path d="M84.60,98.90 L85.35,98.93 L86.09,98.97 L86.84,99.00 L87.59,99.04 L88.33,99.07 L89.08,99.11 L89.83,99.14 L90.58,99.17 L91.32,99.21 L92.07,99.24 L92.82,99.28 L93.56,99.31 L94.31,99.35 L95.06,99.38 L95.80,99.42 L96.55,99.45 L97.30,99.49 L98.04,99.52 L98.79,99.56 L99.54,99.59 L100.29,99.63 L101.03,99.67 L101.78,99.70 L102.53,99.74 L103.27,99.77 L104.02,99.81 L104.77,99.84 L105.51,99.88 L106.26,99.92 L107.01,99.95 L107.75,99.99 L108.50,100.02 L109.25,100.06 L109.99,100.10 L110.74,100.13 L111.49,100.17 L112.24,100.21 L112.98,100.24 L113.73,100.28 L114.48,100.32 L115.22,100.35 L115.97,100.39 L116.72,100.43 L117.46,100.46 L118.21,100.50 L118.96,100.54 L119.70,100.57 L120.45,100.61 L121.20,100.65 L121.94,100.69 L122.69,100.72 L123.44,100.76 L124.18,100.80 L124.93,100.84 L125.68,100.87 L126.42,100.91 L127.17,100.95 L127.92,100.99 L128.67,101.03 L129.41,101.06 L130.16,101.10 L130.91,101.14 L131.65,101.18 L132.40,101.22 L133.15,101.26 L133.89,101.29 L134.64,101.33 L135.39,101.37 L136.13,101.41 L136.88,101.45 L137.63,101.49 L138.37,101.53 L139.12,101.57 L139.87,101.60 L140.61,101.64 L141.36,101.68 L142.11,101.72 L142.85,101.76 L143.60,101.80" stroke="#6a6ec6" stroke-width="1.3" fill="none" stroke-linejoin="round" stroke-linecap="round"/>
<path d="M53.10,120.29 L53.88,120.32 L54.65,120.35 L55.43,120.38 L56.20,120.42 L56.98,120.46 L57.75,120.50 L58.53,120.54 L59.30,120.58 L60.08,120.62 L60.85,120.67 L61.63,120.72 L62.40,120.76 L63.18,120.81 L63.95,120.87 L64.72,120.92 L65.50,120.97 L66.27,121.02 L67.05,121.08 L67.82,121.14 L68.60,121.19 L69.37,121.25 L70.14,121.31 L70.92,121.37 L71.69,121.43 L72.47,121.49 L73.24,121.55 L74.01,121.61 L74.79,121.67 L75.56,121.74 L76.33,121.80 L77.11,121.86 L77.88,121.92 L78.66,121.99 L79.43,122.05 L80.20,122.11 L80.98,122.18 L81.75,122.24 L82.52,122.30 L83.30,122.36 L84.07,122.42 L84.85,122.49 L85.62,122.55 L86.39,122.61 L87.17,122.67 L87.94,122.73 L88.72,122.78 L89.49,122.84 L90.26,122.90 L91.04,122.95 L91.81,123.01 L92.59,123.06 L93.36,123.11 L94.14,123.17 L94.91,123.22 L95.68,123.26 L96.46,123.31 L97.23,123.36 L98.01,123.40 L98.78,123.45 L99.56,123.49 L100.33,123.53 L101.11,123.56 L101.88,123.60 L102.66,123.64 L103.43,123.67 L104.21,123.70 L104.98,123.73 L105.76,123.75 L106.54,123.78 L107.31,123.80 L108.09,123.82 L108.86,123.84 L109.64,123.85 L110.42,123.86 L111.19,123.87 L111.97,123.88 L112.75,123.89 L113.52,123.89 L114.30,123.89" stroke="#c46a22" stroke-width="1.45" fill="none" stroke-linejoin="round" stroke-linecap="round"/>
<path d="M283.48,32.99 L283.92,34.77 L284.34,36.56 L284.74,38.34 L285.12,40.13 L285.47,41.92 L285.81,43.71 L286.12,45.51 L286.42,47.30 L286.70,49.10 L286.96,50.90 L287.20,52.70 L287.43,54.51 L287.64,56.31 L287.83,58.12 L288.01,59.93 L288.18,61.74 L288.33,63.55 L288.46,65.36 L288.59,67.18 L288.70,68.99 L288.80,70.81 L288.89,72.63 L288.97,74.45 L289.04,76.27 L289.10,78.09 L289.16,79.91 L289.20,81.74 L289.24,83.56 L289.27,85.39 L289.29,87.21 L289.31,89.04 L289.32,90.86 L289.33,92.69 L289.33,94.52 L289.34,96.34 L289.33,98.17 L289.33,100.00 L289.32,101.83 L289.32,103.66 L289.31,105.48 L289.30,107.31 L289.30,109.14 L289.29,110.97 L289.29,112.79 L289.29,114.62 L289.29,116.45 L289.30,118.27 L289.31,120.10 L289.32,121.92 L289.35,123.75 L289.37,125.57 L289.41,127.39 L289.45,129.22 L289.49,131.04 L289.55,132.86 L289.62,134.67 L289.69,136.49 L289.78,138.31 L289.87,140.12 L289.98,141.94 L290.10,143.75 L290.23,145.56 L290.37,147.37 L290.53,149.18 L290.70,150.98 L290.89,152.79 L291.09,154.59 L291.31,156.39 L291.54,158.19 L291.79,159.99 L292.06,161.78 L292.35,163.57 L292.66,165.36 L292.98,167.15 L293.33,168.94 L293.69,170.72 L294.08,172.50 L294.49,174.28 L294.92,176.06" stroke="#c46a22" stroke-width="1.5" fill="none" stroke-linejoin="round" stroke-linecap="butt"/>
<path d="M272.10,0.30 L272.35,0.67 L272.59,1.05 L272.83,1.42 L273.06,1.80 L273.29,2.18 L273.52,2.56 L273.74,2.95 L273.96,3.33 L274.17,3.72 L274.38,4.10 L274.59,4.49 L274.79,4.89 L274.99,5.28 L275.19,5.67 L275.38,6.07 L275.57,6.47 L275.76,6.86 L275.94,7.26 L276.12,7.67 L276.30,8.07 L276.47,8.47 L276.64,8.88 L276.81,9.28 L276.98,9.69 L277.14,10.10 L277.30,10.51 L277.46,10.92 L277.61,11.33 L277.76,11.75 L277.91,12.16 L278.06,12.57 L278.20,12.99 L278.35,13.41 L278.49,13.82 L278.62,14.24 L278.76,14.66 L278.90,15.08 L279.03,15.50 L279.16,15.92 L279.29,16.35 L279.41,16.77 L279.54,17.19 L279.66,17.62 L279.78,18.04 L279.91,18.47 L280.02,18.89 L280.14,19.32 L280.26,19.74 L280.37,20.17 L280.49,20.60 L280.60,21.03 L280.71,21.45 L280.83,21.88 L280.94,22.31 L281.05,22.74 L281.15,23.17 L281.26,23.60 L281.37,24.02 L281.48,24.45 L281.58,24.88 L281.69,25.31 L281.79,25.74 L281.90,26.17 L282.01,26.60 L282.11,27.03 L282.22,27.46 L282.32,27.88 L282.43,28.31 L282.53,28.74 L282.64,29.17 L282.74,29.60 L282.85,30.02 L282.95,30.45 L283.06,30.88 L283.17,31.30 L283.27,31.73 L283.38,32.15 L283.49,32.58 L283.60,33.00" stroke="#7a7a7a" stroke-width="1.15" fill="none" stroke-linejoin="round" stroke-dasharray="3.2 1.2 0.9 1.2" stroke-linecap="butt"/>
<text x="130.80" y="32.8" font-size="11" fill="#1a1a1a" stroke="#1a1a1a" stroke-width="0.35" font-style="italic" font-family="Liberation Serif" style="font-family:'Liberation Serif'">s</text>
<text x="138.20000000000002" y="32.599999999999994" font-size="8.6" text-anchor="start" fill="#1a1a1a" stroke="#1a1a1a" stroke-width="0.22" >=</text>
<text x="145.4" y="32.8" font-size="9.1" text-anchor="start" fill="#1a1a1a" stroke="#1a1a1a" stroke-width="0.22" >1.0</text>
<text x="183.6" y="40.8" font-size="9.1" text-anchor="start" fill="#1a1a1a" stroke="#1a1a1a" stroke-width="0.22" >0.81</text>
<text x="209.6" y="53.5" font-size="9.1" text-anchor="start" fill="#1a1a1a" stroke="#1a1a1a" stroke-width="0.22" >0.64</text>
<text x="110" y="80.7" font-size="9.1" text-anchor="end" fill="#1a1a1a" stroke="#1a1a1a" stroke-width="0.22" >1.0</text>
<text x="55.70" y="102.9" font-size="11" fill="#1a1a1a" stroke="#1a1a1a" stroke-width="0.35" font-style="italic" font-family="Liberation Serif" style="font-family:'Liberation Serif'">s</text>
<text x="63.099999999999994" y="102.7" font-size="8.6" text-anchor="start" fill="#1a1a1a" stroke="#1a1a1a" stroke-width="0.22" >=</text>
<text x="70.3" y="102.9" font-size="9.1" text-anchor="start" fill="#1a1a1a" stroke="#1a1a1a" stroke-width="0.22" >1.0</text>
<text x="52" y="124.4" font-size="9.1" text-anchor="end" fill="#1a1a1a" stroke="#1a1a1a" stroke-width="0.22" >1.0</text>
<text x="157.5" y="108.5" font-size="8.8" text-anchor="start" fill="#9a561c" stroke="#9a561c" stroke-width="0.22" >GW170817</text>
<text x="290.1" y="25.5" font-size="8.7" text-anchor="start" fill="#1e9628" stroke="#1e9628" stroke-width="0.22" >J0740+6620</text>
<text x="289.8" y="80.3" font-size="8.7" text-anchor="start" fill="#a81a72" stroke="#a81a72" stroke-width="0.22" >J0030+0451</text>
<text x="46.6" y="20.4" font-size="10.4" text-anchor="start" fill="#1a1a1a" stroke="#1a1a1a" stroke-width="0" font-weight="bold">(a)</text>
<rect x="36.3" y="0.3" width="306.2" height="175.0" fill="none" stroke="#3a3a3a" stroke-width="0.9"/>
<path d="M36.3,175.30h2.6M342.5,175.30h-2.6M36.3,164.36h3.8M342.5,164.36h-3.8M36.3,153.42h2.6M342.5,153.42h-2.6M36.3,142.48h3.8M342.5,142.48h-3.8M36.3,131.54h2.6M342.5,131.54h-2.6M36.3,120.60h3.8M342.5,120.60h-3.8M36.3,109.66h2.6M342.5,109.66h-2.6M36.3,98.72h3.8M342.5,98.72h-3.8M36.3,87.78h2.6M342.5,87.78h-2.6M36.3,76.84h3.8M342.5,76.84h-3.8M36.3,65.90h2.6M342.5,65.90h-2.6M36.3,54.96h3.8M342.5,54.96h-3.8M36.3,44.02h2.6M342.5,44.02h-2.6M36.3,33.08h3.8M342.5,33.08h-3.8M36.3,22.14h2.6M342.5,22.14h-2.6M36.3,11.20h3.8M342.5,11.20h-3.8M36.3,0.26h2.6M342.5,0.26h-2.6M36.40,175.3v-2.6M36.40,0.3v2.6M53.40,175.3v-3.8M53.40,0.3v3.8M70.40,175.3v-2.6M70.40,0.3v2.6M87.40,175.3v-3.8M87.40,0.3v3.8M104.40,175.3v-2.6M104.40,0.3v2.6M121.40,175.3v-3.8M121.40,0.3v3.8M138.40,175.3v-2.6M138.40,0.3v2.6M155.40,175.3v-3.8M155.40,0.3v3.8M172.40,175.3v-2.6M172.40,0.3v2.6M189.40,175.3v-3.8M189.40,0.3v3.8M206.40,175.3v-2.6M206.40,0.3v2.6M223.40,175.3v-3.8M223.40,0.3v3.8M240.40,175.3v-2.6M240.40,0.3v2.6M257.40,175.3v-3.8M257.40,0.3v3.8M274.40,175.3v-2.6M274.40,0.3v2.6M291.40,175.3v-3.8M291.40,0.3v3.8M308.40,175.3v-2.6M308.40,0.3v2.6M325.40,175.3v-3.8M325.40,0.3v3.8M342.40,175.3v-2.6M342.40,0.3v2.6" stroke="#555" stroke-width="1.15" fill="none"/>
<text x="31.7" y="167.96" font-size="10" text-anchor="end" fill="#1a1a1a" stroke="#1a1a1a" stroke-width="0.22" >0.8</text>
<text x="31.7" y="146.08" font-size="10" text-anchor="end" fill="#1a1a1a" stroke="#1a1a1a" stroke-width="0.22" >1.0</text>
<text x="31.7" y="124.20000000000003" font-size="10" text-anchor="end" fill="#1a1a1a" stroke="#1a1a1a" stroke-width="0.22" >1.2</text>
<text x="31.7" y="102.32000000000004" font-size="10" text-anchor="end" fill="#1a1a1a" stroke="#1a1a1a" stroke-width="0.22" >1.4</text>
<text x="31.7" y="80.44000000000001" font-size="10" text-anchor="end" fill="#1a1a1a" stroke="#1a1a1a" stroke-width="0.22" >1.6</text>
<text x="31.7" y="58.560000000000024" font-size="10" text-anchor="end" fill="#1a1a1a" stroke="#1a1a1a" stroke-width="0.22" >1.8</text>
<text x="31.7" y="36.68000000000002" font-size="10" text-anchor="end" fill="#1a1a1a" stroke="#1a1a1a" stroke-width="0.22" >2.0</text>
<text x="31.7" y="14.799999999999999" font-size="10" text-anchor="end" fill="#1a1a1a" stroke="#1a1a1a" stroke-width="0.22" >2.2</text>
<text x="53.4" y="187.8" font-size="10" text-anchor="middle" fill="#1a1a1a" stroke="#1a1a1a" stroke-width="0.22" >7</text>
<text x="87.4" y="187.8" font-size="10" text-anchor="middle" fill="#1a1a1a" stroke="#1a1a1a" stroke-width="0.22" >8</text>
<text x="121.4" y="187.8" font-size="10" text-anchor="middle" fill="#1a1a1a" stroke="#1a1a1a" stroke-width="0.22" >9</text>
<text x="155.4" y="187.8" font-size="10" text-anchor="middle" fill="#1a1a1a" stroke="#1a1a1a" stroke-width="0.22" >10</text>
<text x="189.4" y="187.8" font-size="10" text-anchor="middle" fill="#1a1a1a" stroke="#1a1a1a" stroke-width="0.22" >11</text>
<text x="223.4" y="187.8" font-size="10" text-anchor="middle" fill="#1a1a1a" stroke="#1a1a1a" stroke-width="0.22" >12</text>
<text x="257.4" y="187.8" font-size="10" text-anchor="middle" fill="#1a1a1a" stroke="#1a1a1a" stroke-width="0.22" >13</text>
<text x="291.4" y="187.8" font-size="10" text-anchor="middle" fill="#1a1a1a" stroke="#1a1a1a" stroke-width="0.22" >14</text>
<text x="325.4" y="187.8" font-size="10" text-anchor="middle" fill="#1a1a1a" stroke="#1a1a1a" stroke-width="0.22" >15</text>
<text x="189.6" y="203.3" font-size="10" text-anchor="middle" fill="#1a1a1a" stroke="#1a1a1a" stroke-width="0.22" ><tspan font-style="italic">R</tspan> [km]</text>
<path d="M148.60,214.70 L149.09,215.16 L149.58,215.62 L150.07,216.08 L150.56,216.54 L151.05,217.00 L151.55,217.46 L152.04,217.92 L152.53,218.38 L153.02,218.84 L153.51,219.30 L154.00,219.76 L154.49,220.22 L154.98,220.68 L155.47,221.14 L155.96,221.60 L156.45,222.06 L156.94,222.52 L157.43,222.98 L157.92,223.44 L158.41,223.90 L158.90,224.36 L159.39,224.82 L159.88,225.28 L160.37,225.74 L160.86,226.21 L161.35,226.67 L161.84,227.13 L162.33,227.59 L162.82,228.05 L163.30,228.51 L163.79,228.97 L164.28,229.43 L164.77,229.90 L165.26,230.36 L165.75,230.82 L166.24,231.28 L166.73,231.74 L167.22,232.20 L167.71,232.67 L168.19,233.13 L168.68,233.59 L169.17,234.05 L169.66,234.52 L170.15,234.98 L170.64,235.44 L171.12,235.90 L171.61,236.36 L172.10,236.83 L172.59,237.29 L173.08,237.75 L173.56,238.22 L174.05,238.68 L174.54,239.14 L175.03,239.60 L175.52,240.07 L176.00,240.53 L176.49,240.99 L176.98,241.46 L177.47,241.92 L177.95,242.38 L178.44,242.85 L178.93,243.31 L179.41,243.77 L179.90,244.24 L180.39,244.70 L180.88,245.16 L181.36,245.63 L181.85,246.09 L182.34,246.56 L182.82,247.02 L183.31,247.48 L183.80,247.95 L184.28,248.41 L184.77,248.88 L185.26,249.34 L185.74,249.81 L186.23,250.27 L186.71,250.74 L187.20,251.20" stroke="#7a7a7a" stroke-width="1.15" fill="none" stroke-linejoin="round" stroke-dasharray="3.2 1.2 0.9 1.2" stroke-linecap="butt"/>
<path d="M187.21,251.20 L189.04,253.04 L190.88,254.88 L192.72,256.73 L194.56,258.57 L196.39,260.42 L198.23,262.26 L200.07,264.11 L201.91,265.95 L203.75,267.80 L205.59,269.64 L207.43,271.49 L209.28,273.33 L211.12,275.17 L212.97,277.02 L214.82,278.86 L216.66,280.69 L218.51,282.53 L220.37,284.37 L222.22,286.20 L224.08,288.03 L225.94,289.86 L227.80,291.69 L229.66,293.52 L231.53,295.34 L233.39,297.16 L235.27,298.98 L237.14,300.79 L239.02,302.60 L240.90,304.41 L242.78,306.21 L244.67,308.01 L246.56,309.81 L248.45,311.60 L250.35,313.39 L252.25,315.17 L254.15,316.95 L256.06,318.73 L257.98,320.50 L259.89,322.26 L261.82,324.02 L263.74,325.78 L265.67,327.53 L267.61,329.27 L269.55,331.01 L271.50,332.74 L273.45,334.47 L275.40,336.19 L277.36,337.90 L279.33,339.61 L281.30,341.31 L283.28,343.01 L285.26,344.69 L287.25,346.37 L289.25,348.05 L291.25,349.71 L293.26,351.37 L295.27,353.02 L297.29,354.66 L299.32,356.30 L301.35,357.93 L303.39,359.54 L305.44,361.15 L307.49,362.76 L309.56,364.35 L311.62,365.93 L313.70,367.51 L315.78,369.07 L317.88,370.63 L319.98,372.17 L322.08,373.71 L324.20,375.24 L326.32,376.75 L328.45,378.26 L330.59,379.76 L332.74,381.24 L334.90,382.72 L337.06,384.18 L339.24,385.64 L341.42,387.08" stroke="#c46a22" stroke-width="1.5" fill="none" stroke-linejoin="round" stroke-linecap="butt"/>
<path d="M154.08,306.52 L155.29,306.86 L156.49,307.16 L157.69,307.41 L158.88,307.62 L160.07,307.78 L161.24,307.90 L162.41,307.98 L163.57,308.02 L164.71,308.02 L165.85,307.99 L166.97,307.91 L168.09,307.79 L169.19,307.64 L170.27,307.45 L171.35,307.23 L172.40,306.96 L173.45,306.67 L174.47,306.34 L175.49,305.98 L176.48,305.59 L177.46,305.16 L178.42,304.70 L179.36,304.22 L180.28,303.70 L181.18,303.15 L182.06,302.58 L182.92,301.98 L183.76,301.35 L184.58,300.70 L185.37,300.02 L186.14,299.31 L186.88,298.58 L187.60,297.83 L188.30,297.06 L188.97,296.26 L189.61,295.44 L190.23,294.60 L190.81,293.75 L191.37,292.87 L191.90,291.97 L192.40,291.06 L192.88,290.13 L193.32,289.18 L193.72,288.22 L194.10,287.24 L194.44,286.25 L194.75,285.24 L195.03,284.22 L195.27,283.19 L195.48,282.15 L195.65,281.09 L195.79,280.03 L195.89,278.96 L195.96,277.88 L196.00,276.80 L196.00,275.71 L195.97,274.61 L195.91,273.52 L195.81,272.42 L195.68,271.32 L195.51,270.23 L195.32,269.13 L195.09,268.04 L194.83,266.95 L194.54,265.87 L194.22,264.80 L193.86,263.73 L193.48,262.67 L193.06,261.62 L192.62,260.58 L192.14,259.55 L191.63,258.54 L191.09,257.54 L190.53,256.55 L189.93,255.58 L189.31,254.63 L188.65,253.70 L187.97,252.79 L187.25,251.89" stroke="#9cc6a8" stroke-width="1.0" fill="none" stroke-linejoin="round" stroke-dasharray="0.01 2.4" stroke-linecap="round"/>
<path d="M157.91,330.93 L159.32,331.12 L160.76,331.27 L162.21,331.37 L163.69,331.44 L165.17,331.46 L166.67,331.44 L168.18,331.37 L169.70,331.27 L171.22,331.12 L172.74,330.93 L174.26,330.70 L175.77,330.43 L177.27,330.12 L178.77,329.76 L180.25,329.37 L181.71,328.93 L183.16,328.45 L184.58,327.92 L185.98,327.36 L187.35,326.76 L188.69,326.11 L190.00,325.42 L191.27,324.69 L192.50,323.92 L193.69,323.11 L194.83,322.26 L195.93,321.36 L196.98,320.43 L197.97,319.45 L198.91,318.43 L199.79,317.37 L200.61,316.27 L201.36,315.13 L202.04,313.95 L202.66,312.73 L203.20,311.46 L203.67,310.16 L204.07,308.82 L204.40,307.45 L204.67,306.04 L204.87,304.61 L205.01,303.15 L205.10,301.67 L205.14,300.17 L205.12,298.66 L205.06,297.13 L204.96,295.59 L204.81,294.04 L204.62,292.49 L204.40,290.94 L204.15,289.39 L203.86,287.84 L203.55,286.30 L203.22,284.77 L202.87,283.26 L202.49,281.76 L202.11,280.28 L201.70,278.81 L201.27,277.37 L200.83,275.94 L200.36,274.53 L199.88,273.13 L199.37,271.76 L198.84,270.40 L198.29,269.05 L197.71,267.73 L197.10,266.42 L196.47,265.13 L195.82,263.85 L195.13,262.60 L194.42,261.36 L193.68,260.14 L192.91,258.93 L192.11,257.74 L191.27,256.57 L190.41,255.42 L189.51,254.28 L188.57,253.16 L187.60,252.05" stroke="#b2b2e2" stroke-width="1.0" fill="none" stroke-linejoin="round" stroke-dasharray="0.01 2.4" stroke-linecap="round"/>
<path d="M164.25,355.94 L165.84,356.19 L167.51,356.40 L169.26,356.56 L171.07,356.66 L172.93,356.71 L174.84,356.71 L176.79,356.65 L178.77,356.53 L180.78,356.35 L182.80,356.11 L184.82,355.82 L186.85,355.46 L188.86,355.03 L190.86,354.54 L192.83,353.99 L194.77,353.37 L196.66,352.68 L198.50,351.92 L200.28,351.08 L202.00,350.18 L203.64,349.20 L205.20,348.15 L206.67,347.02 L208.04,345.82 L209.31,344.55 L210.48,343.20 L211.55,341.80 L212.51,340.32 L213.35,338.79 L214.09,337.21 L214.72,335.57 L215.26,333.88 L215.69,332.14 L216.04,330.37 L216.30,328.56 L216.48,326.72 L216.58,324.85 L216.61,322.96 L216.57,321.05 L216.47,319.12 L216.32,317.19 L216.10,315.24 L215.84,313.29 L215.54,311.35 L215.20,309.41 L214.82,307.48 L214.41,305.56 L213.98,303.66 L213.51,301.78 L213.02,299.90 L212.50,298.05 L211.96,296.21 L211.38,294.38 L210.78,292.57 L210.15,290.77 L209.50,288.99 L208.82,287.22 L208.11,285.47 L207.38,283.73 L206.62,282.01 L205.84,280.30 L205.03,278.60 L204.20,276.92 L203.34,275.26 L202.46,273.60 L201.55,271.97 L200.62,270.34 L199.66,268.73 L198.69,267.14 L197.68,265.56 L196.66,263.99 L195.61,262.44 L194.54,260.90 L193.45,259.37 L192.33,257.86 L191.20,256.37 L190.04,254.88 L188.86,253.41 L187.65,251.96" stroke="#ecb48c" stroke-width="1.0" fill="none" stroke-linejoin="round" stroke-dasharray="0.01 2.4" stroke-linecap="round"/>
<path d="M270.90,348.60 L271.26,348.58 L271.62,348.55 L271.97,348.52 L272.31,348.49 L272.65,348.45 L272.98,348.42 L273.30,348.38 L273.62,348.34 L273.93,348.30 L274.23,348.25 L274.53,348.21 L274.82,348.16 L275.10,348.11 L275.38,348.05 L275.65,348.00 L275.92,347.94 L276.18,347.88 L276.43,347.82 L276.67,347.76 L276.91,347.69 L277.14,347.62 L277.37,347.55 L277.59,347.48 L277.80,347.41 L278.00,347.33 L278.20,347.25 L278.40,347.17 L278.58,347.09 L278.76,347.00 L278.93,346.92 L279.10,346.83 L279.26,346.73 L279.41,346.64 L279.56,346.54 L279.70,346.45 L279.84,346.35 L279.96,346.24 L280.08,346.14 L280.20,346.03 L280.30,345.92 L280.41,345.81 L280.50,345.70 L280.59,345.58 L280.67,345.47 L280.74,345.35 L280.81,345.23 L280.87,345.10 L280.93,344.98 L280.98,344.85 L281.02,344.72 L281.06,344.58 L281.09,344.45 L281.11,344.31 L281.12,344.17 L281.13,344.03 L281.14,343.89 L281.13,343.74 L281.12,343.60 L281.11,343.45 L281.08,343.29 L281.05,343.14 L281.02,342.98 L280.97,342.83 L280.93,342.67 L280.87,342.50 L280.81,342.34 L280.74,342.17 L280.66,342.00 L280.58,341.83 L280.49,341.66 L280.40,341.48 L280.29,341.30 L280.19,341.12 L280.07,340.94 L279.95,340.76 L279.82,340.57 L279.69,340.38 L279.55,340.19 L279.40,340.00" stroke="#e890c0" stroke-width="0.9" fill="none" stroke-linejoin="round" stroke-dasharray="0.01 2.4" stroke-linecap="round"/>
<path d="M59.48,238.70 L62.41,239.50 L65.32,240.36 L68.20,241.29 L71.05,242.27 L73.87,243.31 L76.67,244.41 L79.44,245.56 L82.19,246.76 L84.92,248.01 L87.63,249.31 L90.32,250.65 L93.00,252.03 L95.65,253.45 L98.29,254.90 L100.91,256.39 L103.52,257.91 L106.12,259.46 L108.71,261.03 L111.28,262.63 L113.85,264.25 L116.41,265.89 L118.96,267.54 L121.50,269.21 L124.04,270.90 L126.58,272.59 L129.11,274.29 L131.64,275.99 L134.17,277.71 L136.70,279.42 L139.22,281.14 L141.75,282.87 L144.27,284.59 L146.80,286.32 L149.32,288.04 L151.85,289.77 L154.38,291.49 L156.91,293.21 L159.44,294.92 L161.97,296.63 L164.51,298.33 L167.06,300.03 L169.60,301.72 L172.16,303.39 L174.71,305.06 L177.27,306.71 L179.84,308.36 L182.42,309.99 L185.00,311.60 L187.59,313.20 L190.19,314.78 L192.79,316.35 L195.41,317.89 L198.03,319.42 L200.66,320.92 L203.30,322.41 L205.96,323.87 L208.62,325.31 L211.30,326.72 L213.99,328.11 L216.69,329.47 L219.40,330.80 L222.13,332.10 L224.87,333.38 L227.62,334.62 L230.39,335.83 L233.17,337.01 L235.97,338.16 L238.79,339.27 L241.62,340.34 L244.47,341.38 L247.33,342.37 L250.22,343.33 L253.12,344.25 L256.04,345.13 L258.98,345.97 L261.94,346.76 L264.92,347.51 L267.92,348.22 L270.94,348.88" stroke="#d8358a" stroke-width="1.45" fill="none" stroke-linejoin="round" stroke-linecap="round"/>
<path d="M73.87,239.13 L76.75,239.64 L79.59,240.23 L82.41,240.89 L85.18,241.63 L87.93,242.45 L90.64,243.33 L93.33,244.28 L95.98,245.29 L98.61,246.37 L101.22,247.50 L103.80,248.69 L106.35,249.93 L108.89,251.21 L111.41,252.55 L113.90,253.93 L116.38,255.34 L118.85,256.80 L121.30,258.29 L123.73,259.81 L126.15,261.36 L128.57,262.93 L130.97,264.53 L133.36,266.15 L135.75,267.78 L138.13,269.43 L140.51,271.09 L142.89,272.75 L145.26,274.42 L147.63,276.10 L150.01,277.77 L152.38,279.44 L154.76,281.11 L157.14,282.77 L159.53,284.42 L161.91,286.07 L164.31,287.71 L166.70,289.35 L169.10,290.98 L171.51,292.59 L173.91,294.20 L176.33,295.80 L178.75,297.39 L181.17,298.97 L183.60,300.54 L186.03,302.10 L188.48,303.64 L190.92,305.17 L193.38,306.69 L195.84,308.19 L198.31,309.68 L200.78,311.15 L203.27,312.61 L205.76,314.05 L208.26,315.47 L210.77,316.87 L213.28,318.26 L215.81,319.63 L218.34,320.98 L220.89,322.30 L223.44,323.61 L226.01,324.90 L228.58,326.16 L231.16,327.40 L233.76,328.62 L236.37,329.81 L238.98,330.98 L241.61,332.13 L244.25,333.25 L246.90,334.34 L249.57,335.41 L252.24,336.45 L254.93,337.46 L257.64,338.45 L260.35,339.40 L263.08,340.33 L265.82,341.22 L268.58,342.09 L271.35,342.92 L274.14,343.72" stroke="#e8842a" stroke-width="1.45" fill="none" stroke-linejoin="round" stroke-linecap="round"/>
<path d="M91.99,238.84 L94.63,239.54 L97.24,240.27 L99.84,241.05 L102.42,241.88 L104.97,242.74 L107.51,243.64 L110.04,244.58 L112.54,245.56 L115.03,246.57 L117.50,247.62 L119.96,248.70 L122.40,249.82 L124.82,250.97 L127.23,252.15 L129.63,253.35 L132.02,254.59 L134.39,255.85 L136.75,257.14 L139.10,258.46 L141.44,259.79 L143.77,261.15 L146.09,262.53 L148.40,263.94 L150.70,265.36 L152.99,266.80 L155.28,268.25 L157.56,269.73 L159.83,271.21 L162.09,272.71 L164.35,274.22 L166.61,275.75 L168.86,277.28 L171.11,278.83 L173.35,280.38 L175.59,281.93 L177.83,283.50 L180.07,285.06 L182.30,286.64 L184.53,288.21 L186.77,289.78 L189.00,291.36 L191.24,292.93 L193.48,294.50 L195.71,296.07 L197.96,297.63 L200.20,299.19 L202.45,300.74 L204.70,302.28 L206.96,303.81 L209.22,305.34 L211.49,306.85 L213.76,308.35 L216.04,309.83 L218.33,311.30 L220.62,312.75 L222.93,314.19 L225.24,315.61 L227.56,317.01 L229.89,318.39 L232.24,319.75 L234.59,321.08 L236.96,322.39 L239.33,323.68 L241.72,324.94 L244.13,326.17 L246.54,327.37 L248.97,328.55 L251.42,329.69 L253.88,330.80 L256.36,331.88 L258.85,332.93 L261.36,333.94 L263.89,334.91 L266.44,335.85 L269.00,336.74 L271.58,337.60 L274.19,338.42 L276.81,339.19 L279.45,339.93" stroke="#22aee6" stroke-width="1.45" fill="none" stroke-linejoin="round" stroke-linecap="round"/>
<path d="M90.50,302.37 L91.31,302.39 L92.12,302.42 L92.93,302.44 L93.74,302.47 L94.55,302.51 L95.36,302.54 L96.16,302.58 L96.97,302.62 L97.78,302.67 L98.59,302.72 L99.40,302.76 L100.20,302.82 L101.01,302.87 L101.82,302.93 L102.63,302.98 L103.43,303.04 L104.24,303.10 L105.05,303.17 L105.85,303.23 L106.66,303.30 L107.47,303.36 L108.27,303.43 L109.08,303.50 L109.89,303.58 L110.69,303.65 L111.50,303.72 L112.31,303.80 L113.11,303.87 L113.92,303.95 L114.73,304.02 L115.53,304.10 L116.34,304.18 L117.14,304.25 L117.95,304.33 L118.76,304.41 L119.56,304.49 L120.37,304.56 L121.17,304.64 L121.98,304.72 L122.79,304.79 L123.59,304.87 L124.40,304.95 L125.20,305.02 L126.01,305.09 L126.82,305.17 L127.62,305.24 L128.43,305.31 L129.24,305.38 L130.04,305.45 L130.85,305.52 L131.66,305.58 L132.46,305.65 L133.27,305.71 L134.08,305.77 L134.88,305.83 L135.69,305.89 L136.50,305.94 L137.31,306.00 L138.11,306.05 L138.92,306.10 L139.73,306.14 L140.54,306.19 L141.35,306.23 L142.15,306.27 L142.96,306.30 L143.77,306.34 L144.58,306.37 L145.39,306.40 L146.20,306.42 L147.01,306.44 L147.82,306.46 L148.63,306.47 L149.44,306.48 L150.25,306.49 L151.06,306.49 L151.87,306.49 L152.68,306.49 L153.49,306.48 L154.30,306.47" stroke="#3a8c4c" stroke-width="1.4" fill="none" stroke-linejoin="round" stroke-linecap="round"/>
<path d="M91.50,327.48 L92.33,327.49 L93.17,327.50 L94.00,327.51 L94.83,327.53 L95.66,327.55 L96.49,327.57 L97.32,327.60 L98.15,327.63 L98.98,327.66 L99.82,327.69 L100.65,327.73 L101.48,327.77 L102.31,327.81 L103.14,327.85 L103.97,327.90 L104.80,327.94 L105.63,327.99 L106.46,328.04 L107.29,328.09 L108.12,328.15 L108.95,328.20 L109.78,328.26 L110.61,328.32 L111.44,328.38 L112.27,328.44 L113.10,328.50 L113.93,328.56 L114.76,328.62 L115.58,328.69 L116.41,328.75 L117.24,328.82 L118.07,328.88 L118.90,328.95 L119.73,329.02 L120.56,329.08 L121.39,329.15 L122.22,329.22 L123.05,329.29 L123.88,329.35 L124.71,329.42 L125.54,329.49 L126.37,329.55 L127.19,329.62 L128.02,329.68 L128.85,329.75 L129.68,329.81 L130.51,329.88 L131.34,329.94 L132.17,330.00 L133.00,330.06 L133.83,330.12 L134.66,330.18 L135.49,330.24 L136.32,330.29 L137.15,330.35 L137.98,330.40 L138.81,330.45 L139.64,330.50 L140.47,330.55 L141.30,330.59 L142.13,330.64 L142.96,330.68 L143.79,330.72 L144.62,330.75 L145.45,330.79 L146.29,330.82 L147.12,330.85 L147.95,330.88 L148.78,330.90 L149.61,330.92 L150.44,330.94 L151.27,330.96 L152.11,330.97 L152.94,330.98 L153.77,330.98 L154.60,330.99 L155.44,330.98 L156.27,330.98 L157.10,330.97" stroke="#6a6ec6" stroke-width="1.3" fill="none" stroke-linejoin="round" stroke-linecap="round"/>
<path d="M91.80,352.16 L92.72,352.18 L93.64,352.20 L94.56,352.22 L95.48,352.25 L96.40,352.28 L97.31,352.31 L98.23,352.35 L99.15,352.39 L100.07,352.43 L100.99,352.47 L101.91,352.51 L102.82,352.56 L103.74,352.61 L104.66,352.66 L105.58,352.71 L106.49,352.77 L107.41,352.83 L108.33,352.88 L109.24,352.94 L110.16,353.00 L111.08,353.07 L112.00,353.13 L112.91,353.20 L113.83,353.26 L114.75,353.33 L115.66,353.40 L116.58,353.47 L117.50,353.53 L118.41,353.61 L119.33,353.68 L120.25,353.75 L121.16,353.82 L122.08,353.89 L123.00,353.96 L123.91,354.04 L124.83,354.11 L125.75,354.18 L126.66,354.25 L127.58,354.33 L128.50,354.40 L129.41,354.47 L130.33,354.54 L131.25,354.61 L132.16,354.68 L133.08,354.75 L134.00,354.82 L134.91,354.89 L135.83,354.95 L136.75,355.02 L137.66,355.08 L138.58,355.15 L139.50,355.21 L140.42,355.27 L141.33,355.33 L142.25,355.38 L143.17,355.44 L144.09,355.49 L145.00,355.55 L145.92,355.60 L146.84,355.64 L147.76,355.69 L148.67,355.73 L149.59,355.77 L150.51,355.81 L151.43,355.85 L152.35,355.88 L153.27,355.92 L154.19,355.95 L155.10,355.97 L156.02,355.99 L156.94,356.01 L157.86,356.03 L158.78,356.05 L159.70,356.06 L160.62,356.06 L161.54,356.07 L162.46,356.07 L163.38,356.07 L164.30,356.06" stroke="#c46a22" stroke-width="1.5" fill="none" stroke-linejoin="round" stroke-linecap="round"/>
<path d="M177.7,332.2H255.2M177.7,329.6v5.2M255.2,329.6v5.2" stroke="#2a6088" stroke-width="1.3" fill="none"/>
<circle cx="226" cy="332.2" r="2" fill="#2a6088"/>
<text x="198.7" y="349" font-size="8.8" text-anchor="start" fill="#9a561c" stroke="#9a561c" stroke-width="0.22" >GW170817</text>
<text x="67.40" y="257.2" font-size="11" fill="#1a1a1a" stroke="#1a1a1a" stroke-width="0.35" font-style="italic" font-family="Liberation Serif" style="font-family:'Liberation Serif'">s</text>
<text x="74.8" y="257.0" font-size="8.6" text-anchor="start" fill="#1a1a1a" stroke="#1a1a1a" stroke-width="0.22" >=</text>
<text x="82.0" y="257.2" font-size="9.1" text-anchor="start" fill="#1a1a1a" stroke="#1a1a1a" stroke-width="0.22" >1.0</text>
<text x="106.4" y="257.2" font-size="9.1" text-anchor="start" fill="#1a1a1a" stroke="#1a1a1a" stroke-width="0.22" >0.81</text>
<text x="134.8" y="257.4" font-size="9.1" text-anchor="start" fill="#1a1a1a" stroke="#1a1a1a" stroke-width="0.22" >0.64</text>
<text x="89.2" y="306.3" font-size="9.1" text-anchor="end" fill="#1a1a1a" stroke="#1a1a1a" stroke-width="0.22" >1.0</text>
<text x="61.90" y="331.2" font-size="11" fill="#1a1a1a" stroke="#1a1a1a" stroke-width="0.35" font-style="italic" font-family="Liberation Serif" style="font-family:'Liberation Serif'">s</text>
<text x="69.3" y="331.0" font-size="8.6" text-anchor="start" fill="#1a1a1a" stroke="#1a1a1a" stroke-width="0.22" >=</text>
<text x="76.5" y="331.2" font-size="9.1" text-anchor="start" fill="#1a1a1a" stroke="#1a1a1a" stroke-width="0.22" >1.0</text>
<text x="89.2" y="356.1" font-size="9.1" text-anchor="end" fill="#1a1a1a" stroke="#1a1a1a" stroke-width="0.22" >1.0</text>
<text x="46.6" y="236.0" font-size="10.4" text-anchor="start" fill="#1a1a1a" stroke="#1a1a1a" stroke-width="0" font-weight="bold">(b)</text>
<rect x="36.3" y="214.7" width="306.2" height="174.60000000000002" fill="none" stroke="#3a3a3a" stroke-width="0.9"/>
<path d="M36.3,389.48h2.6M342.5,389.48h-2.6M36.3,377.00h3.8M342.5,377.00h-3.8M36.3,364.53h2.6M342.5,364.53h-2.6M36.3,352.05h3.8M342.5,352.05h-3.8M36.3,339.58h2.6M342.5,339.58h-2.6M36.3,327.10h3.8M342.5,327.10h-3.8M36.3,314.62h2.6M342.5,314.62h-2.6M36.3,302.15h3.8M342.5,302.15h-3.8M36.3,289.68h2.6M342.5,289.68h-2.6M36.3,277.20h3.8M342.5,277.20h-3.8M36.3,264.73h2.6M342.5,264.73h-2.6M36.3,252.25h3.8M342.5,252.25h-3.8M36.3,239.78h2.6M342.5,239.78h-2.6M36.3,227.30h3.8M342.5,227.30h-3.8M36.3,214.83h2.6M342.5,214.83h-2.6M36.30,389.3v-3.8M36.30,214.7v3.8M59.34,389.3v-2.6M59.34,214.7v2.6M72.82,389.3v-2.6M72.82,214.7v2.6M82.39,389.3v-2.6M82.39,214.7v2.6M89.81,389.3v-2.6M89.81,214.7v2.6M95.87,389.3v-2.6M95.87,214.7v2.6M100.99,389.3v-2.6M100.99,214.7v2.6M105.43,389.3v-2.6M105.43,214.7v2.6M109.35,389.3v-2.6M109.35,214.7v2.6M112.85,389.3v-3.8M112.85,214.7v3.8M135.89,389.3v-2.6M135.89,214.7v2.6M149.37,389.3v-2.6M149.37,214.7v2.6M158.94,389.3v-2.6M158.94,214.7v2.6M166.36,389.3v-2.6M166.36,214.7v2.6M172.42,389.3v-2.6M172.42,214.7v2.6M177.54,389.3v-2.6M177.54,214.7v2.6M181.98,389.3v-2.6M181.98,214.7v2.6M185.90,389.3v-2.6M185.90,214.7v2.6M189.40,389.3v-3.8M189.40,214.7v3.8M212.44,389.3v-2.6M212.44,214.7v2.6M225.92,389.3v-2.6M225.92,214.7v2.6M235.49,389.3v-2.6M235.49,214.7v2.6M242.91,389.3v-2.6M242.91,214.7v2.6M248.97,389.3v-2.6M248.97,214.7v2.6M254.09,389.3v-2.6M254.09,214.7v2.6M258.53,389.3v-2.6M258.53,214.7v2.6M262.45,389.3v-2.6M262.45,214.7v2.6M265.95,389.3v-3.8M265.95,214.7v3.8M288.99,389.3v-2.6M288.99,214.7v2.6M302.47,389.3v-2.6M302.47,214.7v2.6M312.04,389.3v-2.6M312.04,214.7v2.6M319.46,389.3v-2.6M319.46,214.7v2.6M325.52,389.3v-2.6M325.52,214.7v2.6M330.64,389.3v-2.6M330.64,214.7v2.6M335.08,389.3v-2.6M335.08,214.7v2.6M339.00,389.3v-2.6M339.00,214.7v2.6M342.50,389.3v-3.8M342.50,214.7v3.8" stroke="#555" stroke-width="1.15" fill="none"/>
<text x="31.7" y="380.6" font-size="10" text-anchor="end" fill="#1a1a1a" stroke="#1a1a1a" stroke-width="0.22" >1.0</text>
<text x="31.7" y="355.6500000000001" font-size="10" text-anchor="end" fill="#1a1a1a" stroke="#1a1a1a" stroke-width="0.22" >1.2</text>
<text x="31.7" y="330.70000000000005" font-size="10" text-anchor="end" fill="#1a1a1a" stroke="#1a1a1a" stroke-width="0.22" >1.4</text>
<text x="31.7" y="305.75000000000006" font-size="10" text-anchor="end" fill="#1a1a1a" stroke="#1a1a1a" stroke-width="0.22" >1.6</text>
<text x="31.7" y="280.80000000000007" font-size="10" text-anchor="end" fill="#1a1a1a" stroke="#1a1a1a" stroke-width="0.22" >1.8</text>
<text x="31.7" y="255.85000000000002" font-size="10" text-anchor="end" fill="#1a1a1a" stroke="#1a1a1a" stroke-width="0.22" >2.0</text>
<text x="31.7" y="230.9" font-size="10" text-anchor="end" fill="#1a1a1a" stroke="#1a1a1a" stroke-width="0.22" >2.2</text>
<text x="28.9" y="404.5" font-size="10" fill="#1a1a1a" stroke="#1a1a1a" stroke-width="0.22">10<tspan font-size="7.6" dy="-4.3" dx="0.2">0</tspan></text>
<text x="105.4" y="404.5" font-size="10" fill="#1a1a1a" stroke="#1a1a1a" stroke-width="0.22">10<tspan font-size="7.6" dy="-4.3" dx="0.2">1</tspan></text>
<text x="182.0" y="404.5" font-size="10" fill="#1a1a1a" stroke="#1a1a1a" stroke-width="0.22">10<tspan font-size="7.6" dy="-4.3" dx="0.2">2</tspan></text>
<text x="258.6" y="404.5" font-size="10" fill="#1a1a1a" stroke="#1a1a1a" stroke-width="0.22">10<tspan font-size="7.6" dy="-4.3" dx="0.2">3</tspan></text>
<text x="335.1" y="404.5" font-size="10" fill="#1a1a1a" stroke="#1a1a1a" stroke-width="0.22">10<tspan font-size="7.6" dy="-4.3" dx="0.2">4</tspan></text>
<text x="189" y="422.3" font-size="13" text-anchor="middle" fill="#1a1a1a" stroke="#1a1a1a" stroke-width="0.22" ><tspan font-style="italic" font-family="Liberation Serif">Λ</tspan></text>
<text transform="translate(7.6,87.8) rotate(-90)" font-size="11" text-anchor="middle" fill="#1a1a1a"><tspan font-style="italic">M</tspan> [M<tspan font-size="8" dy="2">⊙</tspan><tspan dy="-2">]</tspan></text>
<text transform="translate(7.6,302) rotate(-90)" font-size="11" text-anchor="middle" fill="#1a1a1a"><tspan font-style="italic">M</tspan> [M<tspan font-size="8" dy="2">⊙</tspan><tspan dy="-2">]</tspan></text>
</svg>
</body></html>
